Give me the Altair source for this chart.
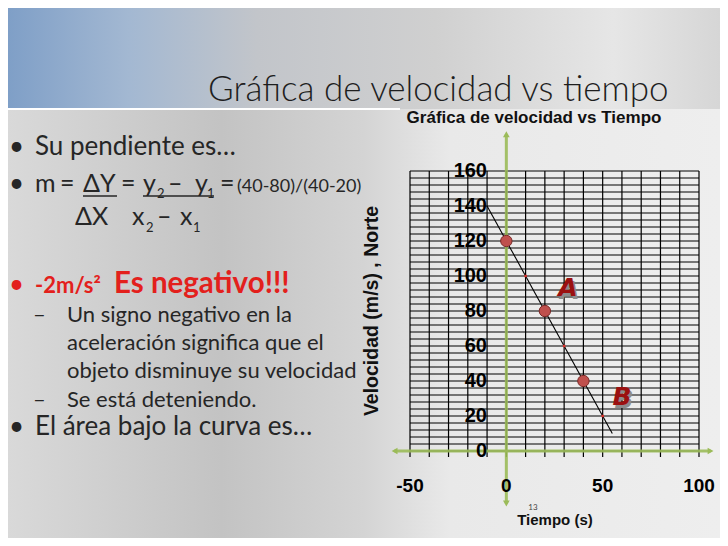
import altair as alt
import pandas as pd

# ---------------- data ----------------
tiempo_linea = [-10, 55]
velocidad_linea = [140, 10]
tiempo_puntos = [0, 20, 40]
velocidad_puntos = [120, 80, 40]
tiempo_marcas = [10, 30, 50]
velocidad_marcas = [100, 60, 20]
x_etiquetas = ["-50", "0", "50", "100"]
x_etiquetas_valor = [-50, 0, 50, 100]
y_etiquetas = [0, 20, 40, 60, 80, 100, 120, 140, 160]
x_rejilla = list(range(-50, 101, 10))
y_rejilla = list(range(0, 161, 4))
eje_x_extremos = [-58, 106]
eje_y_extremos = [-30, 181]
letras = ["A", "B"]
letras_t = [32, 60]
letras_v = [93, 31]

# ---------------- layout ----------------
PX0, PY0 = 410, 171      # page position of plot origin
W, H = 289, 280
ARIAL = "Liberation Sans, Arial, sans-serif"
SLIDE = "Lato, Open Sans, sans-serif"

xs = alt.Scale(domain=[-50, 100], nice=False, zero=False)
ys = alt.Scale(domain=[0, 160], nice=False, zero=False)
uno = alt.Data(values=[{"k": 1}])


def texto(s, px, py, size, font=SLIDE, weight="normal", color="#262626",
          align="left", baseline="alphabetic", angle=0, style="normal"):
    return alt.Chart(uno).mark_text(
        text=s, font=font, fontSize=size, fontWeight=weight, color=color,
        align=align, baseline=baseline, angle=angle, fontStyle=style
    ).encode(x=alt.value(px - PX0), y=alt.value(py - PY0))


def regla(px1, px2, py, color="#262626", w=1.5):
    return alt.Chart(uno).mark_rule(color=color, strokeWidth=w).encode(
        x=alt.value(px1 - PX0), x2=alt.value(px2 - PX0), y=alt.value(py - PY0))


layers = []

# background
fondo = alt.LinearGradient(
    gradient="linear", x1=0, x2=1, y1=0, y2=0,
    stops=[alt.GradientStop(offset=0, color="#d9d9d9"),
           alt.GradientStop(offset=0.3, color="#c3c3c3"),
           alt.GradientStop(offset=0.5, color="#d4d4d4"),
           alt.GradientStop(offset=0.62, color="#e9e9e9"),
           alt.GradientStop(offset=1, color="#eeeeee")])
layers.append(alt.Chart(uno).mark_rect(color=fondo).encode(
    x=alt.value(8 - PX0), x2=alt.value(720 - PX0),
    y=alt.value(8 - PY0), y2=alt.value(538 - PY0)))
banda = alt.LinearGradient(
    gradient="linear", x1=0, x2=1, y1=0, y2=0,
    stops=[alt.GradientStop(offset=0, color="#7f9fc7"),
           alt.GradientStop(offset=0.17, color="#a3b8d2"),
           alt.GradientStop(offset=0.35, color="#c2c5ca"),
           alt.GradientStop(offset=0.6, color="#d0d0d0"),
           alt.GradientStop(offset=0.85, color="#e6e6e6"),
           alt.GradientStop(offset=1, color="#d6d6d6")])
layers.append(alt.Chart(uno).mark_rect(color=banda).encode(
    x=alt.value(8 - PX0), x2=alt.value(720 - PX0),
    y=alt.value(8 - PY0), y2=alt.value(109 - PY0)))
layers.append(regla(8, 400, 109, color="white", w=2))

# grid
layers.append(alt.Chart(pd.DataFrame({"t": x_rejilla})).mark_rule(
    color="black", strokeWidth=1.2).encode(
    x=alt.X("t:Q", scale=xs, axis=None), y=alt.value(0), y2=alt.value(H + 6)))
layers.append(alt.Chart(pd.DataFrame({"v": y_rejilla})).mark_rule(
    color="black", strokeWidth=1.1).encode(
    y=alt.Y("v:Q", scale=ys, axis=None), x=alt.value(0), x2=alt.value(W)))

# green axes with arrows
verde = "#9bbb59"
layers.append(alt.Chart(pd.DataFrame({"a": [eje_x_extremos[0]], "b": [eje_x_extremos[1]], "v": [0]}))
              .mark_rule(color=verde, strokeWidth=3, opacity=0.9)
              .encode(x=alt.X("a:Q", scale=xs, axis=None), x2="b:Q", y=alt.Y("v:Q", scale=ys, axis=None)))
layers.append(alt.Chart(pd.DataFrame({"t": [0], "a": [eje_y_extremos[0]], "b": [eje_y_extremos[1]]}))
              .mark_rule(color=verde, strokeWidth=3, opacity=0.9)
              .encode(x=alt.X("t:Q", scale=xs, axis=None), y=alt.Y("a:Q", scale=ys, axis=None), y2="b:Q"))
for t, v, shp in [(eje_x_extremos[0], 0, "triangle-left"), (eje_x_extremos[1], 0, "triangle-right"),
                  (0, eje_y_extremos[0], "triangle-down"), (0, eje_y_extremos[1], "triangle-up")]:
    layers.append(alt.Chart(pd.DataFrame({"t": [t], "v": [v]}))
                  .mark_point(shape=shp, filled=True, color=verde, size=45, opacity=1)
                  .encode(x=alt.X("t:Q", scale=xs, axis=None), y=alt.Y("v:Q", scale=ys, axis=None)))

# data line, small marks, points
layers.append(alt.Chart(pd.DataFrame({"t": tiempo_linea, "v": velocidad_linea}))
              .mark_line(color="black", strokeWidth=1.1)
              .encode(x=alt.X("t:Q", scale=xs, axis=None), y=alt.Y("v:Q", scale=ys, axis=None)))
layers.append(alt.Chart(pd.DataFrame({"t": tiempo_marcas, "v": velocidad_marcas}))
              .mark_point(shape="square", filled=True, color="#e0302a", size=6, opacity=1)
              .encode(x=alt.X("t:Q", scale=xs, axis=None), y=alt.Y("v:Q", scale=ys, axis=None)))
layers.append(alt.Chart(pd.DataFrame({"t": tiempo_puntos, "v": velocidad_puntos}))
              .mark_point(shape="circle", filled=True, fill="#c0504d", stroke="#7a2a28",
                          strokeWidth=1, size=130, opacity=1)
              .encode(x=alt.X("t:Q", scale=xs, axis=None), y=alt.Y("v:Q", scale=ys, axis=None)))

# tick labels
layers.append(alt.Chart(pd.DataFrame({"v": y_etiquetas}))
              .mark_text(font=ARIAL, fontSize=20, fontWeight="bold", color="black",
                         align="right", baseline="middle")
              .encode(x=alt.value(487 - PX0), y=alt.Y("v:Q", scale=ys, axis=None), text=alt.Text("v:Q")))
layers.append(alt.Chart(pd.DataFrame({"t": x_etiquetas_valor, "s": x_etiquetas}))
              .mark_text(font=ARIAL, fontSize=19, fontWeight="bold", color="black",
                         align="center", baseline="middle")
              .encode(x=alt.X("t:Q", scale=xs, axis=None), y=alt.value(486 - PY0), text="s:N"))

# A / B labels
df_l = pd.DataFrame({"t": letras_t, "v": letras_v, "s": letras})
for col, dx, dy in [("#8c8c8c", 2, 3), ("#9b1010", 0, 0)]:
    layers.append(alt.Chart(df_l).mark_text(
        font="DejaVu Sans", fontSize=25, fontWeight="bold", fontStyle="italic",
        color=col, dx=dx, dy=dy, align="center", baseline="middle")
        .encode(x=alt.X("t:Q", scale=xs, axis=None), y=alt.Y("v:Q", scale=ys, axis=None), text="s:N"))

# chart texts
layers.append(texto("Gráfica de velocidad vs tiempo", 208, 101, 35, weight=300, color="#1e1e1e"))
layers.append(texto("Gráfica de velocidad vs Tiempo", 534, 123, 17, font=ARIAL, weight="bold",
                    color="#111", align="center"))
layers.append(texto("Velocidad (m/s) , Norte", 372, 311, 19.5, font=ARIAL,
                    weight="bold", color="#111", align="center", baseline="middle", angle=270))
layers.append(texto("Tiempo (s)", 555, 525, 15, font=ARIAL, weight="bold", color="#111", align="center"))
layers.append(texto("13", 533, 510, 8, color="#444", align="center"))

# slide bullets
B = 26
M = 25
BX = 9
layers.append(texto("•", BX, 155, B))
layers.append(texto("Su pendiente es…", 35, 155, B))
layers.append(texto("•", BX, 192, B))
layers.append(texto("m", 35, 192, M))
layers.append(texto("=", 60, 192, M))
layers.append(texto("ΔY", 83, 192, M))
layers.append(texto("=", 121, 192, M))
layers.append(texto("y", 143, 192, M))
layers.append(texto("2", 157, 198, 13))
layers.append(texto("–", 168, 192, M))
layers.append(texto("y", 195, 192, M))
layers.append(texto("1", 207, 198, 13))
layers.append(texto("=", 220, 192, M))
layers.append(texto("(40-80)/(40-20)", 237, 192, 18))
layers.append(regla(83, 117, 196))
layers.append(regla(143, 214, 196))
layers.append(texto("ΔX", 75, 225, M))
layers.append(texto("x", 132, 225, M))
layers.append(texto("2", 146, 232, 13))
layers.append(texto("–", 157, 225, M))
layers.append(texto("x", 180, 225, M))
layers.append(texto("1", 193, 232, 13))

RED = "#e3201c"
layers.append(texto("•", BX, 293, B, color=RED))
layers.append(texto("-2m/s²", 35, 293, 22, weight="bold", color=RED))
layers.append(texto("Es negativo!!!", 114, 293, 29.5, weight="bold", color=RED))
S = 22
layers.append(texto("–", 33, 322, S))
layers.append(texto("Un signo negativo en la", 67, 322, S))
layers.append(texto("aceleración significa que el", 67, 350, S))
layers.append(texto("objeto disminuye su velocidad", 67, 378, S))
layers.append(texto("–", 33, 407, S))
layers.append(texto("Se está deteniendo.", 67, 407, S))
layers.append(texto("•", BX, 435, B))
layers.append(texto("El área bajo la curva es…", 35, 435, B))

chart = alt.layer(*layers).properties(
    width=W, height=H,
    autosize=alt.AutoSizeParams(type="none"),
    padding={"left": PX0 - 8, "top": PY0 - 8, "right": 712 - (PX0 - 8) - W, "bottom": 530 - (PY0 - 8) - H},
    background="#dedede",
).configure_view(strokeWidth=0)

chart.save("out.html", embed_options={"renderer": "svg", "actions": False})
